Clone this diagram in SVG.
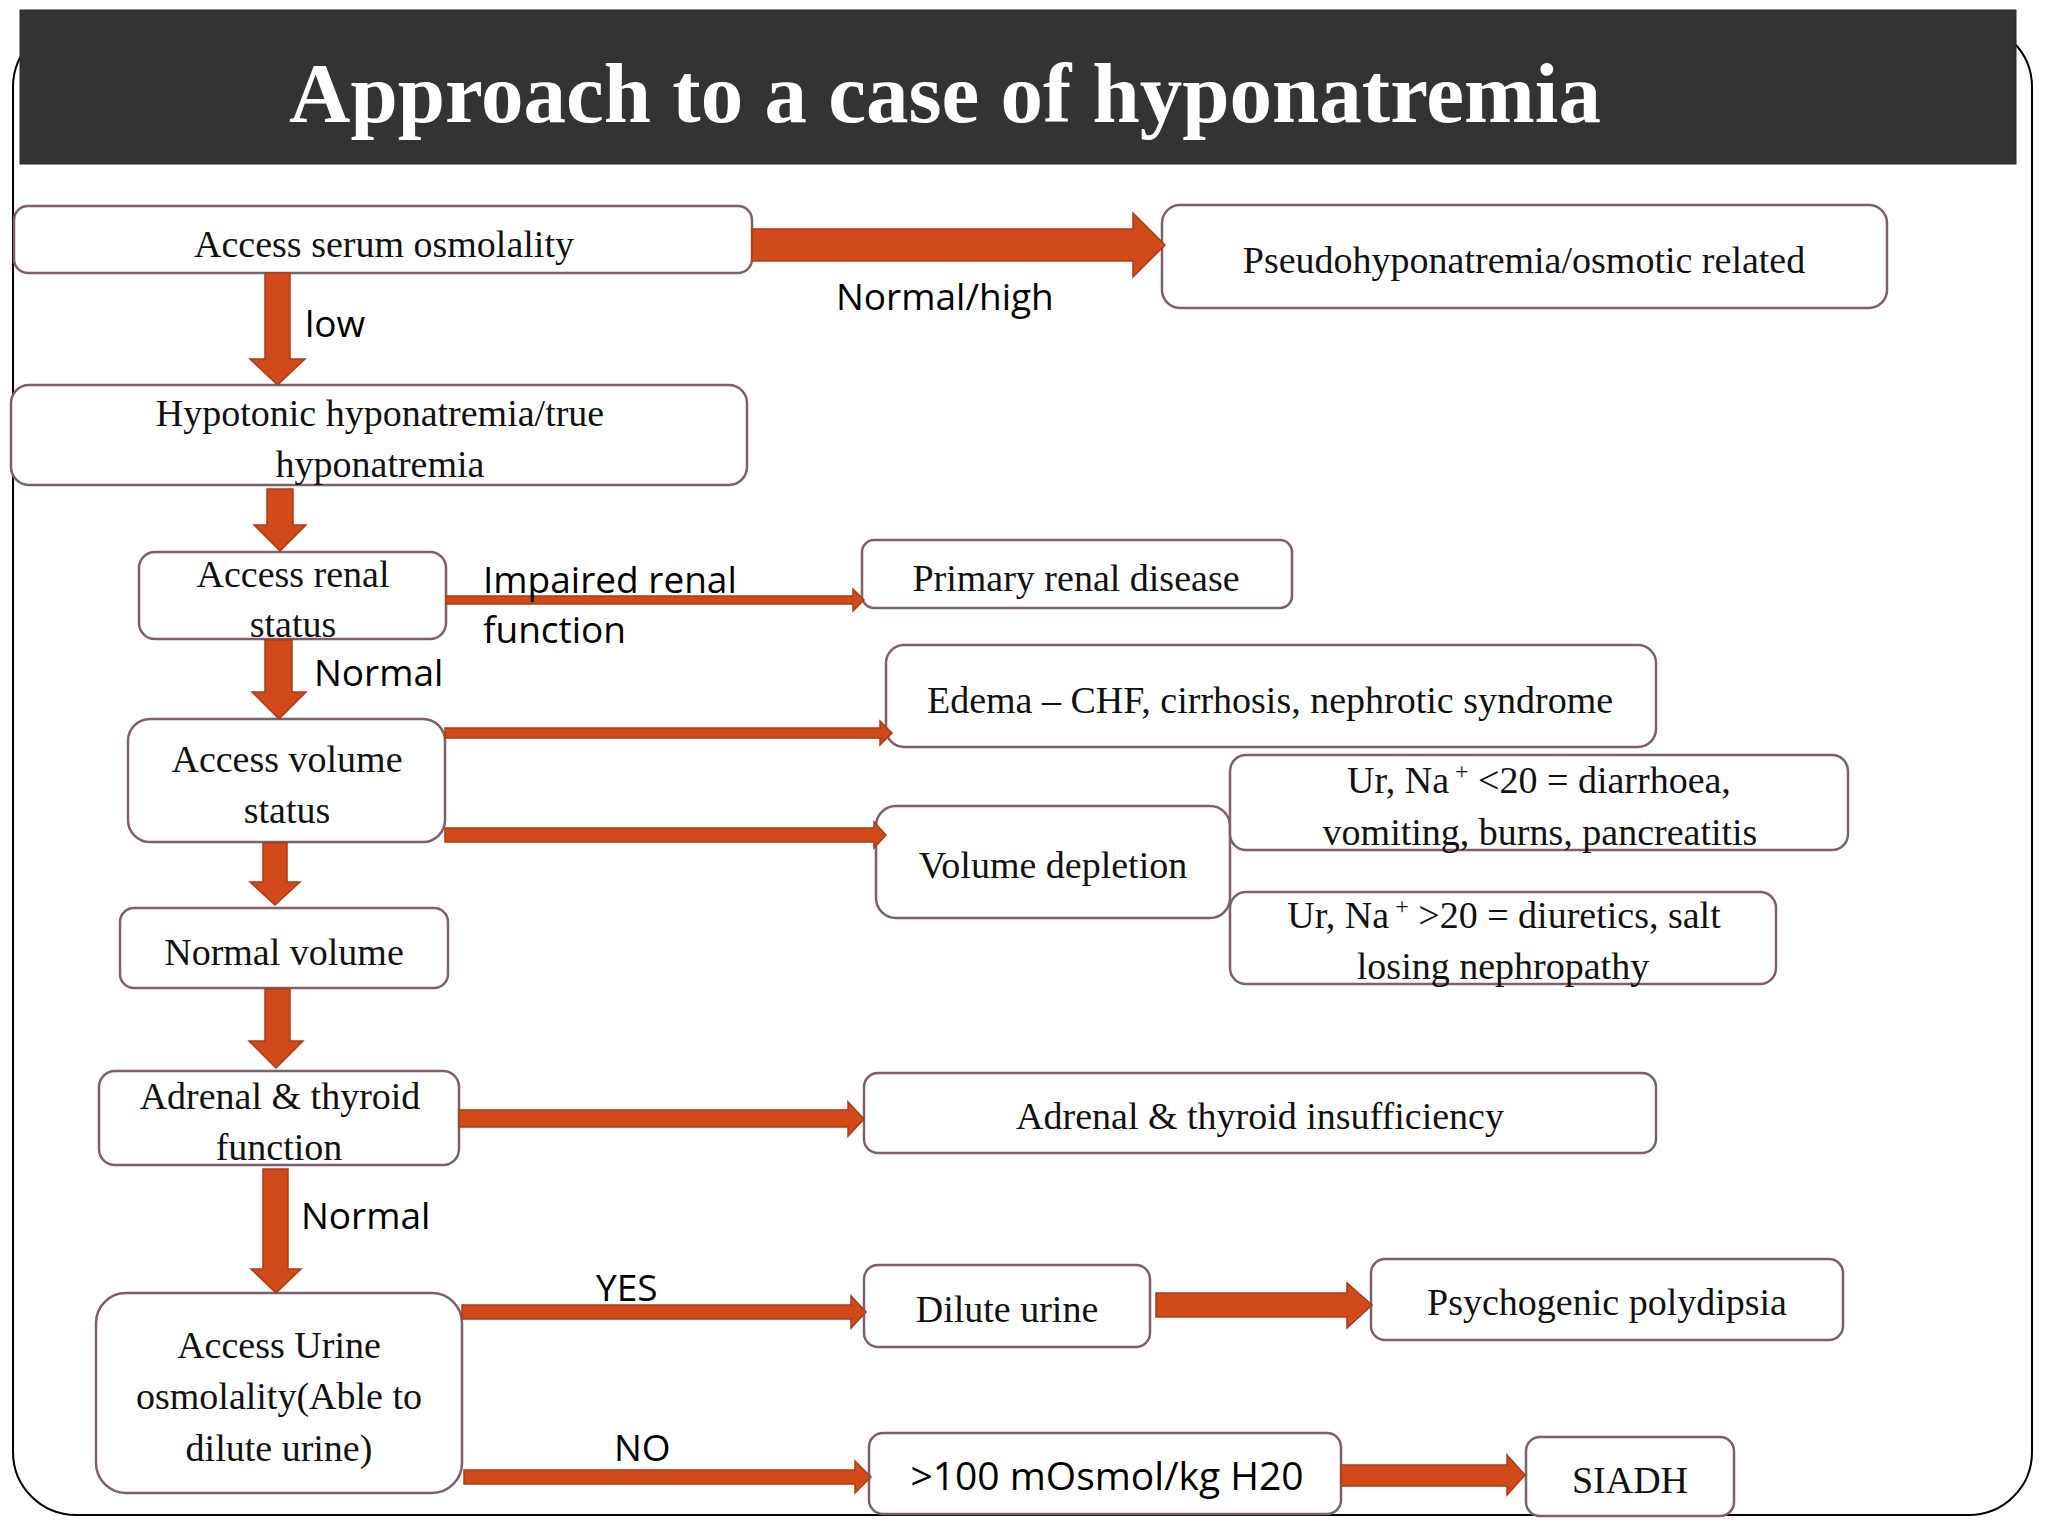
<svg xmlns="http://www.w3.org/2000/svg" width="2048" height="1536" viewBox="0 0 2048 1536">
<style>
.box{fill:#ffffff;stroke:#7e6068;stroke-width:2.5}
.t{font-family:"Liberation Serif","Times New Roman",serif;font-size:38px;fill:#111;text-anchor:middle}
.lbl{font-family:"Open Sans","Liberation Sans",sans-serif;font-size:37px;fill:#000}
.arrow{fill:#D24A1A;stroke:#A83C14;stroke-width:1.5;stroke-linejoin:miter}
</style>
<rect x="0" y="0" width="2048" height="1536" fill="#ffffff"/>
<rect x="13" y="24" width="2019" height="1491" rx="63" ry="63" fill="none" stroke="#000" stroke-width="2"/>
<g id="title">
<rect x="20" y="10" width="1996" height="154" fill="#333333" stroke="#2a2a2a" stroke-width="1"/>
<text x="945" y="122" font-family="'Liberation Serif','Times New Roman',serif" font-size="85" font-weight="bold" fill="#ffffff" text-anchor="middle">Approach to a case of hyponatremia</text>
</g>
<g id="n-serum"><rect class="box" x="14" y="206" width="738" height="67" rx="14"/><text class="t" x="384" y="257">Access serum osmolality</text></g>
<g id="n-pseudo"><rect class="box" x="1162" y="205" width="725" height="103" rx="18"/><text class="t" x="1524" y="273">Pseudohyponatremia/osmotic related</text></g>
<g id="n-hypotonic"><rect class="box" x="11" y="385" width="736" height="100" rx="18"/><text class="t" x="380" y="426">Hypotonic hyponatremia/true</text><text class="t" x="380" y="477">hyponatremia</text></g>
<g id="n-renal"><rect class="box" x="139" y="552" width="307" height="87" rx="16"/><text class="t" x="293" y="587">Access renal</text><text class="t" x="293" y="637">status</text></g>
<g id="n-primary"><rect class="box" x="862" y="540" width="430" height="68" rx="12"/><text class="t" x="1076" y="591">Primary renal disease</text></g>
<g id="n-volume"><rect class="box" x="128" y="719" width="317" height="123" rx="22"/><text class="t" x="287" y="772">Access volume</text><text class="t" x="287" y="823">status</text></g>
<g id="n-edema"><rect class="box" x="886" y="645" width="770" height="102" rx="18"/><text class="t" x="1270" y="713">Edema – CHF, cirrhosis, nephrotic syndrome</text></g>
<g id="n-depletion"><rect class="box" x="876" y="806" width="354" height="112" rx="20"/><text class="t" x="1053" y="878">Volume depletion</text></g>
<g id="n-lt20"><rect class="box" x="1230" y="755" width="618" height="95" rx="16"/><text class="t" x="1539" y="793">Ur, Na<tspan dy="-14" font-size="24"> +</tspan><tspan dy="14"> &lt;20 = diarrhoea,</tspan></text><text class="t" x="1540" y="845">vomiting, burns, pancreatitis</text></g>
<g id="n-gt20"><rect class="box" x="1230" y="892" width="546" height="92" rx="16"/><text class="t" x="1504" y="928">Ur, Na<tspan dy="-14" font-size="24"> +</tspan><tspan dy="14"> &gt;20 = diuretics, salt</tspan></text><text class="t" x="1503" y="979">losing nephropathy</text></g>
<g id="n-normalvol"><rect class="box" x="120" y="908" width="328" height="80" rx="14"/><text class="t" x="284" y="965">Normal volume</text></g>
<g id="n-adrenal"><rect class="box" x="99" y="1071" width="360" height="94" rx="16"/><text class="t" x="280" y="1109">Adrenal &amp; thyroid</text><text class="t" x="279" y="1160">function</text></g>
<g id="n-insuff"><rect class="box" x="864" y="1073" width="792" height="80" rx="14"/><text class="t" x="1260" y="1129">Adrenal &amp; thyroid insufficiency</text></g>
<g id="n-urine"><rect class="box" x="96" y="1293" width="366" height="200" rx="30"/><text class="t" x="279" y="1358">Access Urine</text><text class="t" x="279" y="1409">osmolality(Able to</text><text class="t" x="279" y="1461">dilute urine)</text></g>
<g id="n-dilute"><rect class="box" x="864" y="1265" width="286" height="82" rx="14"/><text class="t" x="1007" y="1322">Dilute urine</text></g>
<g id="n-psych"><rect class="box" x="1371" y="1259" width="472" height="81" rx="14"/><text class="t" x="1607" y="1315">Psychogenic polydipsia</text></g>
<g id="n-100"><rect class="box" x="869" y="1433" width="472" height="81" rx="14"/><text x="1107" y="1490" font-family="'Open Sans','Liberation Sans',sans-serif" font-size="39" fill="#000" text-anchor="middle">&gt;100 mOsmol/kg H20</text></g>
<g id="n-siadh"><rect class="box" x="1526" y="1437" width="208" height="79" rx="14"/><text class="t" x="1630" y="1493">SIADH</text></g>
<g id="connectors">
<polygon class="arrow" points="752,229 1133,229 1133,213 1165,245 1133,277 1133,261 752,261"/>
<polygon class="arrow" points="265,273 290,273 290,359 305,359 277.5,385 250,359 265,359"/>
<polygon class="arrow" points="267,489 293,489 293,525 306,525 280,551 254,525 267,525"/>
<polygon class="arrow" points="446,596 853,596 853,589 864,600 853,611 853,604 446,604"/>
<polygon class="arrow" points="265,640 292,640 292,692 306,692 279,719 252,692 265,692"/>
<polygon class="arrow" points="445,728 880,728 880,721 892,733 880,745 880,738 445,738"/>
<polygon class="arrow" points="445,828 874,828 874,822 886,835 874,848 874,842 445,842"/>
<polygon class="arrow" points="263,843 287,843 287,882 300,882 275,905 250,882 263,882"/>
<polygon class="arrow" points="265,989 290,989 290,1041 303,1041 276,1068 249,1041 265,1041"/>
<polygon class="arrow" points="459,1110 848,1110 848,1102 864,1119 848,1136 848,1127 459,1127"/>
<polygon class="arrow" points="263,1169 288,1169 288,1269 301,1269 276,1293 251,1269 263,1269"/>
<polygon class="arrow" points="462,1305 851,1305 851,1296 866,1312 851,1328 851,1319 462,1319"/>
<polygon class="arrow" points="464,1470 855,1470 855,1461 871,1477 855,1493 855,1484 464,1484"/>
<polygon class="arrow" points="1156,1293 1347,1293 1347,1283 1372,1305 1347,1328 1347,1317 1156,1317"/>
<polygon class="arrow" points="1341,1465 1507,1465 1507,1455 1525,1475 1507,1495 1507,1486 1341,1486"/>
<text class="lbl" x="836" y="310">Normal/high</text>
<text class="lbl" x="305" y="337">low</text>
<text class="lbl" x="483" y="593">Impaired renal</text>
<text class="lbl" x="483" y="643">function</text>
<text class="lbl" x="314" y="686">Normal</text>
<text class="lbl" x="301" y="1229">Normal</text>
<text class="lbl" x="596" y="1301" font-size="36">YES</text>
<text class="lbl" x="614" y="1461" font-size="35">NO</text>
</g>
</svg>
